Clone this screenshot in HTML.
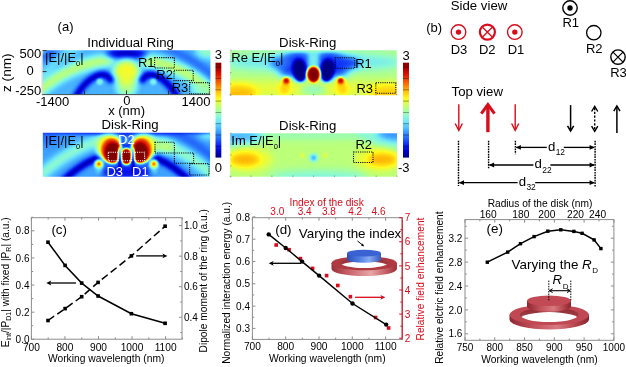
<!DOCTYPE html>
<html><head><meta charset="utf-8"><style>
html,body{margin:0;padding:0;background:#fff;overflow:hidden;}
svg{display:block;}
text{font-family:"Liberation Sans",Arial,sans-serif;}
</style></head><body>
<svg width="626" height="367" viewBox="0 0 626 367">
<defs>
<filter id="jet" color-interpolation-filters="sRGB" filterUnits="userSpaceOnUse" x="0" y="0" width="626" height="367">
<feComponentTransfer>
<feFuncR type="table" tableValues="0.000 0.000 0.039 0.118 0.196 0.314 0.431 0.549 0.667 0.824 1.000 1.000 0.980 0.941 0.863 0.667 0.502"/>
<feFuncG type="table" tableValues="0.000 0.000 0.118 0.353 0.549 0.745 0.902 0.980 1.000 1.000 0.980 0.784 0.549 0.314 0.078 0.000 0.000"/>
<feFuncB type="table" tableValues="0.510 0.784 0.961 0.980 1.000 1.000 0.980 0.824 0.588 0.353 0.118 0.039 0.000 0.000 0.000 0.000 0.000"/>
</feComponentTransfer></filter>
<linearGradient id="cbar" x1="0" y1="0" x2="0" y2="1"><stop offset="0.0" stop-color="#800000"/><stop offset="0.0625" stop-color="#aa0000"/><stop offset="0.125" stop-color="#dc1400"/><stop offset="0.1875" stop-color="#f05000"/><stop offset="0.25" stop-color="#fa8c00"/><stop offset="0.3125" stop-color="#ffc80a"/><stop offset="0.375" stop-color="#fffa1e"/><stop offset="0.4375" stop-color="#d2ff5a"/><stop offset="0.5" stop-color="#aaff96"/><stop offset="0.5625" stop-color="#8cfad2"/><stop offset="0.625" stop-color="#6ee6fa"/><stop offset="0.6875" stop-color="#50beff"/><stop offset="0.75" stop-color="#328cff"/><stop offset="0.8125" stop-color="#1e5afa"/><stop offset="0.875" stop-color="#0a1ef5"/><stop offset="0.9375" stop-color="#0000c8"/><stop offset="1.0" stop-color="#000082"/></linearGradient>
<filter id="b4" color-interpolation-filters="sRGB" filterUnits="userSpaceOnUse" x="-50" y="-50" width="726" height="467"><feGaussianBlur stdDeviation="4"/></filter>
<filter id="b2" color-interpolation-filters="sRGB" filterUnits="userSpaceOnUse" x="-50" y="-50" width="726" height="467"><feGaussianBlur stdDeviation="2"/></filter>
<filter id="b3" color-interpolation-filters="sRGB" filterUnits="userSpaceOnUse" x="-50" y="-50" width="726" height="467"><feGaussianBlur stdDeviation="3"/></filter>
<filter id="b3_5" color-interpolation-filters="sRGB" filterUnits="userSpaceOnUse" x="-50" y="-50" width="726" height="467"><feGaussianBlur stdDeviation="3.5"/></filter>
<filter id="b2_2" color-interpolation-filters="sRGB" filterUnits="userSpaceOnUse" x="-50" y="-50" width="726" height="467"><feGaussianBlur stdDeviation="2.2"/></filter>
<filter id="b2_5" color-interpolation-filters="sRGB" filterUnits="userSpaceOnUse" x="-50" y="-50" width="726" height="467"><feGaussianBlur stdDeviation="2.5"/></filter>
<filter id="b1_2" color-interpolation-filters="sRGB" filterUnits="userSpaceOnUse" x="-50" y="-50" width="726" height="467"><feGaussianBlur stdDeviation="1.2"/></filter>
<clipPath id="clip1"><rect x="42.6" y="50.2" width="167.8" height="44.2"/></clipPath>
<filter id="b5" color-interpolation-filters="sRGB" filterUnits="userSpaceOnUse" x="-50" y="-50" width="726" height="467"><feGaussianBlur stdDeviation="5"/></filter>
<filter id="b1_5" color-interpolation-filters="sRGB" filterUnits="userSpaceOnUse" x="-50" y="-50" width="726" height="467"><feGaussianBlur stdDeviation="1.5"/></filter>
<filter id="b1_4" color-interpolation-filters="sRGB" filterUnits="userSpaceOnUse" x="-50" y="-50" width="726" height="467"><feGaussianBlur stdDeviation="1.4"/></filter>
<filter id="b1_0" color-interpolation-filters="sRGB" filterUnits="userSpaceOnUse" x="-50" y="-50" width="726" height="467"><feGaussianBlur stdDeviation="1.0"/></filter>
<filter id="b0_8" color-interpolation-filters="sRGB" filterUnits="userSpaceOnUse" x="-50" y="-50" width="726" height="467"><feGaussianBlur stdDeviation="0.8"/></filter>
<clipPath id="clip2"><rect x="230.2" y="50.2" width="166.60000000000002" height="45.0"/></clipPath>
<filter id="b1_8" color-interpolation-filters="sRGB" filterUnits="userSpaceOnUse" x="-50" y="-50" width="726" height="467"><feGaussianBlur stdDeviation="1.8"/></filter>
<filter id="b1_3" color-interpolation-filters="sRGB" filterUnits="userSpaceOnUse" x="-50" y="-50" width="726" height="467"><feGaussianBlur stdDeviation="1.3"/></filter>
<filter id="b0_9" color-interpolation-filters="sRGB" filterUnits="userSpaceOnUse" x="-50" y="-50" width="726" height="467"><feGaussianBlur stdDeviation="0.9"/></filter>
<clipPath id="clip3"><rect x="42.8" y="132.8" width="167.2" height="44.0"/></clipPath>
<clipPath id="clip4"><rect x="230.2" y="133.2" width="166.8" height="43.60000000000002"/></clipPath>
<linearGradient id="rside" x1="0" y1="0" x2="1" y2="0"><stop offset="0" stop-color="#8e2630"/><stop offset="0.3" stop-color="#c2505a"/><stop offset="0.6" stop-color="#d87a80"/><stop offset="0.85" stop-color="#b04048"/><stop offset="1" stop-color="#8a2430"/></linearGradient>
<linearGradient id="rside2" x1="0" y1="0" x2="1" y2="0"><stop offset="0" stop-color="#9a2e36"/><stop offset="0.3" stop-color="#cc6a70"/><stop offset="0.6" stop-color="#e8a6a8"/><stop offset="0.85" stop-color="#c05a60"/><stop offset="1" stop-color="#9a2e36"/></linearGradient>
<linearGradient id="bside" x1="0" y1="0" x2="1" y2="0"><stop offset="0" stop-color="#2b4fb8"/><stop offset="0.35" stop-color="#4c7ae0"/><stop offset="0.65" stop-color="#86aaf2"/><stop offset="1" stop-color="#3558c0"/></linearGradient>
<linearGradient id="rinner" x1="0" y1="0" x2="0" y2="1"><stop offset="0" stop-color="#8a2a32"/><stop offset="1" stop-color="#b04850"/></linearGradient>
<clipPath id="hce"><ellipse cx="549.25" cy="314.8" rx="29.3" ry="7.3"/></clipPath>
<clipPath id="hcd"><ellipse cx="364.2" cy="263.2" rx="23.6" ry="4.8"/></clipPath>
</defs>
<rect x="0" y="0" width="626" height="367" fill="#fff"/>
<g clip-path="url(#clip1)"><g filter="url(#jet)">
<rect x="22.6" y="30.200000000000003" width="207.8" height="84.2" fill="rgb(76,76,76)"/>
<ellipse cx="46.00" cy="53.00" rx="12" ry="8" fill="rgb(51,51,51)" opacity="1" filter="url(#b4)"/>
<ellipse cx="42.00" cy="50.00" rx="4" ry="3" fill="rgb(107,107,107)" opacity="1" filter="url(#b2)"/>
<path d="M 38 80 Q 55 60 80 46" fill="none" stroke="rgb(102,102,102)" stroke-width="6" stroke-linecap="round" opacity="1" filter="url(#b3)"/>
<path d="M 36 94 Q 68 64 110 60" fill="none" stroke="rgb(143,143,143)" stroke-width="10" stroke-linecap="round" opacity="1" filter="url(#b3_5)"/>
<path d="M 146 61 Q 185 64 216 97" fill="none" stroke="rgb(143,143,143)" stroke-width="11" stroke-linecap="round" opacity="1" filter="url(#b3_5)"/>
<ellipse cx="201.00" cy="90.00" rx="10" ry="5" fill="rgb(117,117,117)" opacity="1" filter="url(#b3)"/>
<path d="M 152 42 Q 188 54 216 78" fill="none" stroke="rgb(46,46,46)" stroke-width="6" stroke-linecap="round" opacity="1" filter="url(#b3)"/>
<ellipse cx="210.00" cy="51.00" rx="14" ry="7" fill="rgb(117,117,117)" opacity="1" filter="url(#b3)"/>
<ellipse cx="126.50" cy="53.50" rx="21" ry="5" fill="rgb(8,8,8)" opacity="1" filter="url(#b3)"/>
<ellipse cx="126.50" cy="76.00" rx="15" ry="16" fill="rgb(102,102,102)" opacity="1" filter="url(#b3)"/>
<ellipse cx="126.50" cy="88.00" rx="9" ry="9" fill="rgb(128,128,128)" opacity="1" filter="url(#b3)"/>
<ellipse cx="126.50" cy="71.00" rx="12" ry="10" fill="rgb(158,158,158)" opacity="1" filter="url(#b3)"/>
<ellipse cx="126.50" cy="79.00" rx="7" ry="7" fill="rgb(153,153,153)" opacity="1" filter="url(#b3)"/>
<path d="M 74 101 Q 83 81 99 75 Q 107 73 110.5 80" fill="none" stroke="rgb(8,8,8)" stroke-width="6.5" stroke-linecap="round" opacity="1" filter="url(#b2_2)"/>
<path d="M 179.0 101 Q 170.0 81 154.0 75 Q 146.0 73 142.5 80" fill="none" stroke="rgb(8,8,8)" stroke-width="6.5" stroke-linecap="round" opacity="1" filter="url(#b2_2)"/>
<ellipse cx="100.00" cy="89.00" rx="6" ry="6" fill="rgb(76,76,76)" opacity="1" filter="url(#b2_5)"/>
<ellipse cx="153.00" cy="89.00" rx="6" ry="6" fill="rgb(76,76,76)" opacity="1" filter="url(#b2_5)"/>
<ellipse cx="99.70" cy="81.80" rx="3.0" ry="3.0" fill="rgb(107,107,107)" opacity="1" filter="url(#b1_2)"/>
<ellipse cx="153.30" cy="81.80" rx="3.0" ry="3.0" fill="rgb(107,107,107)" opacity="1" filter="url(#b1_2)"/>
</g></g>
<g clip-path="url(#clip2)"><g filter="url(#jet)">
<rect x="210.2" y="30.200000000000003" width="206.60000000000002" height="85.0" fill="rgb(133,133,133)"/>
<ellipse cx="313.50" cy="62.00" rx="92" ry="9" fill="rgb(97,97,97)" opacity="1" filter="url(#b5)"/>
<ellipse cx="313.50" cy="89.00" rx="100" ry="8" fill="rgb(153,153,153)" opacity="1" filter="url(#b5)"/>
<ellipse cx="238.00" cy="94.00" rx="20" ry="10" fill="rgb(178,178,178)" opacity="1" filter="url(#b4)"/>
<ellipse cx="389.00" cy="94.00" rx="20" ry="10" fill="rgb(173,173,173)" opacity="1" filter="url(#b4)"/>
<ellipse cx="294.50" cy="64.00" rx="17" ry="12" fill="rgb(36,36,36)" opacity="1" filter="url(#b4)" transform="rotate(-30 294.5 64)"/>
<ellipse cx="332.50" cy="64.00" rx="17" ry="12" fill="rgb(36,36,36)" opacity="1" filter="url(#b4)" transform="rotate(30 332.5 64)"/>
<ellipse cx="346.50" cy="63.00" rx="13" ry="5.5" fill="rgb(38,38,38)" opacity="1" filter="url(#b3)"/>
<ellipse cx="280.50" cy="63.00" rx="11" ry="5.5" fill="rgb(56,56,56)" opacity="1" filter="url(#b3)"/>
<ellipse cx="313.50" cy="60.00" rx="4.5" ry="10" fill="rgb(102,102,102)" opacity="1" filter="url(#b2_2)"/>
<ellipse cx="313.50" cy="49.50" rx="100" ry="2.2" fill="rgb(120,120,120)" opacity="1" filter="url(#b1_5)"/>
<ellipse cx="313.50" cy="90.00" rx="13" ry="6" fill="rgb(117,117,117)" opacity="1" filter="url(#b3)"/>
<ellipse cx="299.70" cy="70.50" rx="7.4" ry="11.6" fill="rgb(0,0,0)" opacity="1" filter="url(#b1_4)" transform="rotate(-8 299.7 70.5)"/>
<ellipse cx="327.30" cy="70.50" rx="7.4" ry="11.6" fill="rgb(0,0,0)" opacity="1" filter="url(#b1_4)" transform="rotate(8 327.3 70.5)"/>
<ellipse cx="285.00" cy="87.50" rx="5.5" ry="8" fill="rgb(173,173,173)" opacity="1" filter="url(#b2_5)" transform="rotate(20 285.0 87.5)"/>
<ellipse cx="342.00" cy="87.50" rx="5.5" ry="8" fill="rgb(173,173,173)" opacity="1" filter="url(#b2_5)" transform="rotate(-20 342.0 87.5)"/>
<ellipse cx="286.30" cy="81.00" rx="3.6" ry="3.6" fill="rgb(204,204,204)" opacity="1" filter="url(#b1_5)"/>
<ellipse cx="340.70" cy="81.00" rx="3.6" ry="3.6" fill="rgb(204,204,204)" opacity="1" filter="url(#b1_5)"/>
<ellipse cx="286.30" cy="80.70" rx="2.4" ry="2.4" fill="rgb(235,235,235)" opacity="1" filter="url(#b1_0)"/>
<ellipse cx="340.70" cy="80.70" rx="2.4" ry="2.4" fill="rgb(235,235,235)" opacity="1" filter="url(#b1_0)"/>
<ellipse cx="313.50" cy="74.60" rx="7.4" ry="9.2" fill="rgb(128,128,128)" opacity="1" filter="url(#b1_2)"/>
<ellipse cx="313.50" cy="74.60" rx="6.4" ry="8.2" fill="rgb(191,191,191)" opacity="1" filter="url(#b1_0)"/>
<ellipse cx="313.50" cy="74.60" rx="5.6" ry="7.3" fill="rgb(255,255,255)" opacity="1" filter="url(#b0_8)"/>
</g></g>
<g clip-path="url(#clip3)"><g filter="url(#jet)">
<rect x="22.799999999999997" y="112.80000000000001" width="207.2" height="84.0" fill="rgb(71,71,71)"/>
<ellipse cx="44.00" cy="137.00" rx="16" ry="8" fill="rgb(56,56,56)" opacity="1" filter="url(#b4)"/>
<path d="M 34 182 Q 65 150 104 139" fill="none" stroke="rgb(122,122,122)" stroke-width="9" stroke-linecap="round" opacity="1" filter="url(#b3_5)"/>
<path d="M 148.8 141 Q 182 146 216 178" fill="none" stroke="rgb(120,120,120)" stroke-width="10" stroke-linecap="round" opacity="1" filter="url(#b3_5)"/>
<ellipse cx="165.00" cy="147.00" rx="10" ry="5" fill="rgb(138,138,138)" opacity="1" filter="url(#b3)"/>
<path d="M 158 126 Q 190 136 218 162" fill="none" stroke="rgb(43,43,43)" stroke-width="6" stroke-linecap="round" opacity="1" filter="url(#b3)"/>
<ellipse cx="211.00" cy="133.00" rx="12" ry="6" fill="rgb(107,107,107)" opacity="1" filter="url(#b3)"/>
<ellipse cx="126.40" cy="132.50" rx="95" ry="2.2" fill="rgb(31,31,31)" opacity="1" filter="url(#b1_5)"/>
<path d="M 62 182 Q 78 166 96 158.5 Q 104 156 108 161" fill="none" stroke="rgb(5,5,5)" stroke-width="6.5" stroke-linecap="round" opacity="1" filter="url(#b2_2)"/>
<path d="M 190.8 182 Q 174.8 166 156.8 158.5 Q 148.8 156 144.8 161" fill="none" stroke="rgb(5,5,5)" stroke-width="6.5" stroke-linecap="round" opacity="1" filter="url(#b2_2)"/>
<ellipse cx="126.40" cy="172.00" rx="26" ry="7" fill="rgb(26,26,26)" opacity="1" filter="url(#b3)"/>
<ellipse cx="109.90" cy="148.00" rx="13" ry="13.5" fill="rgb(163,163,163)" opacity="1" filter="url(#b2_5)" transform="rotate(-20 109.9 148)"/>
<ellipse cx="142.90" cy="148.00" rx="13" ry="13.5" fill="rgb(163,163,163)" opacity="1" filter="url(#b2_5)" transform="rotate(20 142.9 148)"/>
<ellipse cx="111.60" cy="150.50" rx="10.2" ry="12.2" fill="rgb(219,219,219)" opacity="1" filter="url(#b1_8)"/>
<ellipse cx="141.20" cy="150.50" rx="10.2" ry="12.2" fill="rgb(219,219,219)" opacity="1" filter="url(#b1_8)"/>
<ellipse cx="112.80" cy="152.50" rx="7.8" ry="10" fill="rgb(255,255,255)" opacity="1" filter="url(#b1_2)"/>
<ellipse cx="140.00" cy="152.50" rx="7.8" ry="10" fill="rgb(255,255,255)" opacity="1" filter="url(#b1_2)"/>
<ellipse cx="126.40" cy="143.00" rx="5.2" ry="10" fill="rgb(36,36,36)" opacity="1" filter="url(#b1_5)"/>
<ellipse cx="126.40" cy="140.00" rx="2.5" ry="4" fill="rgb(76,76,76)" opacity="1" filter="url(#b1_3)"/>
<ellipse cx="126.40" cy="156.50" rx="5.8" ry="8.2" fill="rgb(191,191,191)" opacity="1" filter="url(#b1_0)"/>
<ellipse cx="126.40" cy="156.50" rx="5.0" ry="7.2" fill="rgb(255,255,255)" opacity="1" filter="url(#b0_9)"/>
<ellipse cx="119.80" cy="160.00" rx="1.5" ry="13" fill="rgb(8,8,8)" opacity="1" filter="url(#b1_0)"/>
<ellipse cx="133.00" cy="160.00" rx="1.5" ry="13" fill="rgb(8,8,8)" opacity="1" filter="url(#b1_0)"/>
<ellipse cx="98.90" cy="168.00" rx="2.5" ry="6" fill="rgb(102,102,102)" opacity="1" filter="url(#b2)"/>
<ellipse cx="153.90" cy="168.00" rx="2.5" ry="6" fill="rgb(102,102,102)" opacity="1" filter="url(#b2)"/>
<ellipse cx="98.90" cy="164.00" rx="4" ry="4" fill="rgb(158,158,158)" opacity="1" filter="url(#b1_5)"/>
<ellipse cx="153.90" cy="164.00" rx="4" ry="4" fill="rgb(158,158,158)" opacity="1" filter="url(#b1_5)"/>
<ellipse cx="98.90" cy="164.00" rx="1.8" ry="1.8" fill="rgb(219,219,219)" opacity="1" filter="url(#b0_8)"/>
<ellipse cx="153.90" cy="164.00" rx="1.8" ry="1.8" fill="rgb(219,219,219)" opacity="1" filter="url(#b0_8)"/>
</g></g>
<g clip-path="url(#clip4)"><g filter="url(#jet)">
<rect x="210.2" y="113.19999999999999" width="206.8" height="83.60000000000002" fill="rgb(135,135,135)"/>
<ellipse cx="313.60" cy="135.00" rx="90" ry="4" fill="rgb(117,117,117)" opacity="1" filter="url(#b3)"/>
<ellipse cx="234.00" cy="136.00" rx="28" ry="9" fill="rgb(79,79,79)" opacity="1" filter="url(#b4)"/>
<ellipse cx="397.00" cy="134.00" rx="22" ry="9" fill="rgb(66,66,66)" opacity="1" filter="url(#b4)"/>
<path d="M 360 132 Q 380 145 400 150" fill="none" stroke="rgb(102,102,102)" stroke-width="5" stroke-linecap="round" opacity="1" filter="url(#b3)"/>
<ellipse cx="318.60" cy="178.00" rx="50" ry="7" fill="rgb(105,105,105)" opacity="1" filter="url(#b4)"/>
<ellipse cx="248.00" cy="159.50" rx="25" ry="12" fill="rgb(153,153,153)" opacity="1" filter="url(#b3_5)"/>
<ellipse cx="379.20" cy="159.50" rx="25" ry="12" fill="rgb(153,153,153)" opacity="1" filter="url(#b3_5)"/>
<ellipse cx="245.00" cy="159.50" rx="15" ry="6.5" fill="rgb(181,181,181)" opacity="1" filter="url(#b3)"/>
<ellipse cx="382.20" cy="159.50" rx="15" ry="6.5" fill="rgb(181,181,181)" opacity="1" filter="url(#b3)"/>
<ellipse cx="313.60" cy="157.80" rx="4.5" ry="4.5" fill="rgb(107,107,107)" opacity="1" filter="url(#b1_5)"/>
<ellipse cx="313.60" cy="157.80" rx="2.5" ry="2.5" fill="rgb(76,76,76)" opacity="1" filter="url(#b1_0)"/>
<ellipse cx="302.10" cy="155.30" rx="2.2" ry="2.2" fill="rgb(153,153,153)" opacity="1" filter="url(#b1_0)"/>
<ellipse cx="325.10" cy="155.30" rx="2.2" ry="2.2" fill="rgb(153,153,153)" opacity="1" filter="url(#b1_0)"/>
</g></g>
<rect x="215.5" y="62.7" width="5.80" height="94.9" fill="url(#cbar)"/>
<line x1="215.50" y1="146.30" x2="221.30" y2="146.30" stroke="#000" stroke-width="0.8" opacity="0.45"/>
<line x1="215.50" y1="135.00" x2="221.30" y2="135.00" stroke="#000" stroke-width="0.8" opacity="0.45"/>
<line x1="215.50" y1="123.70" x2="221.30" y2="123.70" stroke="#000" stroke-width="0.8" opacity="0.45"/>
<line x1="215.50" y1="112.40" x2="221.30" y2="112.40" stroke="#000" stroke-width="0.8" opacity="0.45"/>
<line x1="215.50" y1="101.10" x2="221.30" y2="101.10" stroke="#000" stroke-width="0.8" opacity="0.45"/>
<line x1="215.50" y1="89.80" x2="221.30" y2="89.80" stroke="#000" stroke-width="0.8" opacity="0.45"/>
<line x1="215.50" y1="78.50" x2="221.30" y2="78.50" stroke="#000" stroke-width="0.8" opacity="0.45"/>
<line x1="215.50" y1="67.20" x2="221.30" y2="67.20" stroke="#000" stroke-width="0.8" opacity="0.45"/>
<rect x="403.0" y="62.7" width="6.00" height="94.9" fill="url(#cbar)"/>
<line x1="403.00" y1="146.30" x2="409.00" y2="146.30" stroke="#000" stroke-width="0.8" opacity="0.45"/>
<line x1="403.00" y1="135.00" x2="409.00" y2="135.00" stroke="#000" stroke-width="0.8" opacity="0.45"/>
<line x1="403.00" y1="123.70" x2="409.00" y2="123.70" stroke="#000" stroke-width="0.8" opacity="0.45"/>
<line x1="403.00" y1="112.40" x2="409.00" y2="112.40" stroke="#000" stroke-width="0.8" opacity="0.45"/>
<line x1="403.00" y1="101.10" x2="409.00" y2="101.10" stroke="#000" stroke-width="0.8" opacity="0.45"/>
<line x1="403.00" y1="89.80" x2="409.00" y2="89.80" stroke="#000" stroke-width="0.8" opacity="0.45"/>
<line x1="403.00" y1="78.50" x2="409.00" y2="78.50" stroke="#000" stroke-width="0.8" opacity="0.45"/>
<line x1="403.00" y1="67.20" x2="409.00" y2="67.20" stroke="#000" stroke-width="0.8" opacity="0.45"/>
<text x="57.60" y="31.30" font-size="13" text-anchor="start" fill="#000" >(a)</text>
<text x="130.60" y="46.60" font-size="13.2" text-anchor="middle" fill="#000" >Individual Ring</text>
<text x="307.70" y="46.70" font-size="13.2" text-anchor="middle" fill="#000" >Disk-Ring</text>
<text x="130.00" y="129.40" font-size="13.2" text-anchor="middle" fill="#000" >Disk-Ring</text>
<text x="307.70" y="129.90" font-size="13.2" text-anchor="middle" fill="#000" >Disk-Ring</text>
<text x="218.40" y="58.60" font-size="13" text-anchor="middle" fill="#000" >3</text>
<text x="218.40" y="171.80" font-size="13" text-anchor="middle" fill="#000" >0</text>
<text x="406.00" y="59.80" font-size="13" text-anchor="middle" fill="#000" >3</text>
<text x="409.50" y="171.80" font-size="13" text-anchor="end" fill="#000" >-3</text>
<line x1="42.10" y1="50.20" x2="42.10" y2="94.80" stroke="#d8cccc" stroke-width="1" />
<line x1="42.10" y1="94.60" x2="210.40" y2="94.60" stroke="#3a5050" stroke-width="1" />
<line x1="42.60" y1="50.60" x2="46.60" y2="50.60" stroke="#333" stroke-width="1" />
<line x1="42.60" y1="71.60" x2="46.60" y2="71.60" stroke="#333" stroke-width="1" />
<line x1="84.50" y1="94.40" x2="84.50" y2="90.40" stroke="#333" stroke-width="1" />
<line x1="126.50" y1="94.40" x2="126.50" y2="90.40" stroke="#333" stroke-width="1" />
<line x1="168.50" y1="94.40" x2="168.50" y2="90.40" stroke="#333" stroke-width="1" />
<text x="41.20" y="57.80" font-size="13" text-anchor="end" fill="#000" >500</text>
<text x="30.10" y="75.20" font-size="13" text-anchor="middle" fill="#000" >0</text>
<text x="41.20" y="95.20" font-size="13" text-anchor="end" fill="#000" >-250</text>
<text x="52.50" y="106.00" font-size="13" text-anchor="middle" fill="#000" >-1400</text>
<text x="126.80" y="105.00" font-size="13" text-anchor="middle" fill="#000" >0</text>
<text x="196.00" y="106.00" font-size="13" text-anchor="middle" fill="#000" >1400</text>
<text x="126.60" y="115.20" font-size="13" text-anchor="middle" fill="#000" >x (nm)</text>
<text transform="translate(10.7 72.7) rotate(-90)" font-size="13.6" text-anchor="middle">z (nm)</text>
<text x="45" y="62.2" font-size="13">|E|/|E<tspan font-size="7.5" dy="4">0</tspan><tspan dy="-4">|</tspan></text>
<text x="231.3" y="62.2" font-size="13">Re E/|E<tspan font-size="7.5" dy="4">0</tspan><tspan dy="-4">|</tspan></text>
<text x="45" y="145.2" font-size="13">|E|/|E<tspan font-size="7.5" dy="4">0</tspan><tspan dy="-4">|</tspan></text>
<text x="231.3" y="144.5" font-size="13">Im E/|E<tspan font-size="7.5" dy="4">0</tspan><tspan dy="-4">|</tspan></text>
<rect x="154.6" y="57.6" width="19.80" height="10.40" fill="none" stroke="#000" stroke-width="1.1" stroke-dasharray="1.1 1.1"/>
<rect x="174.0" y="70.2" width="19.20" height="10.40" fill="none" stroke="#000" stroke-width="1.1" stroke-dasharray="1.1 1.1"/>
<rect x="189.6" y="82.6" width="19.80" height="11.20" fill="none" stroke="#000" stroke-width="1.1" stroke-dasharray="1.1 1.1"/>
<text x="146.20" y="67.30" font-size="13" text-anchor="middle" fill="#000" >R1</text>
<text x="164.60" y="79.40" font-size="13" text-anchor="middle" fill="#000" >R2</text>
<text x="180.00" y="91.90" font-size="13" text-anchor="middle" fill="#000" >R3</text>
<rect x="155.0" y="142.3" width="19.40" height="10.70" fill="none" stroke="#000" stroke-width="1.1" stroke-dasharray="1.1 1.1"/>
<rect x="174.4" y="153.0" width="19.20" height="10.30" fill="none" stroke="#000" stroke-width="1.1" stroke-dasharray="1.1 1.1"/>
<rect x="189.6" y="163.6" width="19.40" height="11.40" fill="none" stroke="#000" stroke-width="1.1" stroke-dasharray="1.1 1.1"/>
<rect x="108.3" y="152.2" width="9.80" height="8.60" fill="none" stroke="#fff" stroke-width="1.1" stroke-dasharray="1.1 1.1"/>
<rect x="121.8" y="152.2" width="9.80" height="8.60" fill="none" stroke="#fff" stroke-width="1.1" stroke-dasharray="1.1 1.1"/>
<rect x="134.8" y="152.2" width="9.80" height="8.60" fill="none" stroke="#fff" stroke-width="1.1" stroke-dasharray="1.1 1.1"/>
<text x="126.40" y="144.30" font-size="13" text-anchor="middle" fill="#fff" >D2</text>
<text x="114.70" y="176.20" font-size="13" text-anchor="middle" fill="#fff" >D3</text>
<text x="140.40" y="176.20" font-size="13" text-anchor="middle" fill="#fff" >D1</text>
<rect x="335.2" y="57.7" width="19.50" height="10.50" fill="none" stroke="#000" stroke-width="1.1" stroke-dasharray="1.1 1.1"/>
<rect x="375.8" y="82.8" width="20.00" height="10.50" fill="none" stroke="#000" stroke-width="1.1" stroke-dasharray="1.1 1.1"/>
<text x="363.50" y="67.80" font-size="13" text-anchor="middle" fill="#000" >R1</text>
<text x="364.80" y="93.30" font-size="13" text-anchor="middle" fill="#000" >R3</text>
<rect x="353.5" y="152.0" width="19.50" height="10.50" fill="none" stroke="#000" stroke-width="1.1" stroke-dasharray="1.1 1.1"/>
<text x="363.70" y="149.30" font-size="13" text-anchor="middle" fill="#000" >R2</text>
<line x1="230.20" y1="95.20" x2="230.20" y2="94.00" stroke="#555" stroke-width="0.6" />
<line x1="251.02" y1="95.20" x2="251.02" y2="94.00" stroke="#555" stroke-width="0.6" />
<line x1="271.85" y1="95.20" x2="271.85" y2="94.00" stroke="#555" stroke-width="0.6" />
<line x1="292.68" y1="95.20" x2="292.68" y2="94.00" stroke="#555" stroke-width="0.6" />
<line x1="313.50" y1="95.20" x2="313.50" y2="94.00" stroke="#555" stroke-width="0.6" />
<line x1="334.32" y1="95.20" x2="334.32" y2="94.00" stroke="#555" stroke-width="0.6" />
<line x1="355.15" y1="95.20" x2="355.15" y2="94.00" stroke="#555" stroke-width="0.6" />
<line x1="375.98" y1="95.20" x2="375.98" y2="94.00" stroke="#555" stroke-width="0.6" />
<line x1="396.80" y1="95.20" x2="396.80" y2="94.00" stroke="#555" stroke-width="0.6" />
<line x1="230.20" y1="50.20" x2="231.40" y2="50.20" stroke="#555" stroke-width="0.6" />
<line x1="230.20" y1="61.45" x2="231.40" y2="61.45" stroke="#555" stroke-width="0.6" />
<line x1="230.20" y1="72.70" x2="231.40" y2="72.70" stroke="#555" stroke-width="0.6" />
<line x1="230.20" y1="83.95" x2="231.40" y2="83.95" stroke="#555" stroke-width="0.6" />
<line x1="230.20" y1="95.20" x2="231.40" y2="95.20" stroke="#555" stroke-width="0.6" />
<line x1="230.20" y1="176.80" x2="230.20" y2="175.60" stroke="#555" stroke-width="0.6" />
<line x1="251.05" y1="176.80" x2="251.05" y2="175.60" stroke="#555" stroke-width="0.6" />
<line x1="271.90" y1="176.80" x2="271.90" y2="175.60" stroke="#555" stroke-width="0.6" />
<line x1="292.75" y1="176.80" x2="292.75" y2="175.60" stroke="#555" stroke-width="0.6" />
<line x1="313.60" y1="176.80" x2="313.60" y2="175.60" stroke="#555" stroke-width="0.6" />
<line x1="334.45" y1="176.80" x2="334.45" y2="175.60" stroke="#555" stroke-width="0.6" />
<line x1="355.30" y1="176.80" x2="355.30" y2="175.60" stroke="#555" stroke-width="0.6" />
<line x1="376.15" y1="176.80" x2="376.15" y2="175.60" stroke="#555" stroke-width="0.6" />
<line x1="397.00" y1="176.80" x2="397.00" y2="175.60" stroke="#555" stroke-width="0.6" />
<line x1="230.20" y1="133.20" x2="231.40" y2="133.20" stroke="#555" stroke-width="0.6" />
<line x1="230.20" y1="144.10" x2="231.40" y2="144.10" stroke="#555" stroke-width="0.6" />
<line x1="230.20" y1="155.00" x2="231.40" y2="155.00" stroke="#555" stroke-width="0.6" />
<line x1="230.20" y1="165.90" x2="231.40" y2="165.90" stroke="#555" stroke-width="0.6" />
<line x1="230.20" y1="176.80" x2="231.40" y2="176.80" stroke="#555" stroke-width="0.6" />
<text x="450.80" y="10.10" font-size="13.2" text-anchor="start" fill="#000" >Side view</text>
<text x="426.20" y="31.60" font-size="13" text-anchor="start" fill="#000" >(b)</text>
<circle cx="458.5" cy="32.1" r="7.3" fill="none" stroke="#d80c1a" stroke-width="1.4"/>
<circle cx="458.5" cy="32.1" r="2.7" fill="#d80c1a"/>
<circle cx="514.8" cy="32.1" r="7.3" fill="none" stroke="#d80c1a" stroke-width="1.4"/>
<circle cx="514.8" cy="32.1" r="2.7" fill="#d80c1a"/>
<circle cx="487.4" cy="32.1" r="7.5" fill="none" stroke="#d80c1a" stroke-width="2.2"/>
<path d="M 482.79999999999995 27.5 L 492.0 36.7 M 482.79999999999995 36.7 L 492.0 27.5" stroke="#d80c1a" stroke-width="1.3"/>
<text x="459.00" y="53.90" font-size="13" text-anchor="middle" fill="#000" >D3</text>
<text x="487.30" y="53.90" font-size="13" text-anchor="middle" fill="#000" >D2</text>
<text x="516.00" y="53.90" font-size="13" text-anchor="middle" fill="#000" >D1</text>
<circle cx="570.0" cy="8.0" r="7.2" fill="none" stroke="#000" stroke-width="1.4"/>
<circle cx="570.0" cy="8.0" r="2.7" fill="#000"/>
<circle cx="593.8" cy="32.7" r="7.2" fill="none" stroke="#000" stroke-width="1.3"/>
<circle cx="618.0" cy="57.1" r="7.2" fill="none" stroke="#000" stroke-width="1.4"/>
<path d="M 613.0 52.1 L 623.0 62.1 M 613.0 62.1 L 623.0 52.1" stroke="#000" stroke-width="1.2"/>
<text x="570.80" y="26.80" font-size="13" text-anchor="middle" fill="#000" >R1</text>
<text x="594.30" y="53.40" font-size="13" text-anchor="middle" fill="#000" >R2</text>
<text x="618.50" y="77.40" font-size="13" text-anchor="middle" fill="#000" >R3</text>
<text x="451.60" y="95.80" font-size="13.2" text-anchor="start" fill="#000" >Top view</text>
<line x1="458.8" y1="104.2" x2="458.8" y2="130.08" stroke="#d80c1a" stroke-width="1.4"/>
<path d="M 455.2 123.5 L 458.8 130.5 L 462.40000000000003 123.5" fill="none" stroke="#d80c1a" stroke-width="1.4" stroke-linejoin="miter"/>
<line x1="515.2" y1="104.2" x2="515.2" y2="130.08" stroke="#d80c1a" stroke-width="1.4"/>
<path d="M 511.6 123.5 L 515.2 130.5 L 518.8000000000001 123.5" fill="none" stroke="#d80c1a" stroke-width="1.4" stroke-linejoin="miter"/>
<line x1="487.9" y1="132.2" x2="487.9" y2="106" stroke="#d80c1a" stroke-width="3.4"/>
<path d="M 481.3 113.6 L 487.9 104.6 L 494.5 113.6" fill="none" stroke="#d80c1a" stroke-width="3.0" stroke-linejoin="miter"/>
<line x1="570.6" y1="105.1" x2="570.6" y2="130.55" stroke="#000" stroke-width="1.5"/>
<path d="M 567.5 125.8 L 570.6 131.0 L 573.7 125.8" fill="none" stroke="#000" stroke-width="1.5" stroke-linejoin="miter"/>
<line x1="616.9" y1="133.0" x2="616.9" y2="106.35000000000001" stroke="#000" stroke-width="1.5"/>
<path d="M 613.8 111.10000000000001 L 616.9 105.9 L 620.0 111.10000000000001" fill="none" stroke="#000" stroke-width="1.5" stroke-linejoin="miter"/>
<line x1="594.7" y1="108" x2="594.7" y2="130" stroke="#000" stroke-width="1.4" stroke-dasharray="2.2 1.6"/>
<path d="M 591.6 111.5 L 594.7 106.3 L 597.8 111.5 M 591.6 126.2 L 594.7 131.4 L 597.8 126.2" fill="none" stroke="#000" stroke-width="1.4"/>
<line x1="458.5" y1="140.7" x2="458.5" y2="186.0" stroke="#000" stroke-width="1.4" stroke-dasharray="1.7 0.9"/>
<line x1="488.6" y1="140.7" x2="488.6" y2="168.2" stroke="#000" stroke-width="1.4" stroke-dasharray="1.7 0.9"/>
<line x1="515.4" y1="140.7" x2="515.4" y2="154.2" stroke="#000" stroke-width="1.4" stroke-dasharray="1.7 0.9"/>
<line x1="595.1" y1="140.7" x2="595.1" y2="186.5" stroke="#000" stroke-width="1.4" stroke-dasharray="1.7 0.9"/>
<line x1="516.4" y1="147.4" x2="546.8" y2="147.4" stroke="#000" stroke-width="1.3"/>
<line x1="563.8" y1="147.4" x2="594.1" y2="147.4" stroke="#000" stroke-width="1.3"/>
<path d="M 520.9 145.0 L 515.6999999999999 147.4 L 520.9 149.8 Z" fill="#000"/>
<path d="M 589.6 145.0 L 594.8000000000001 147.4 L 589.6 149.8 Z" fill="#000"/>
<text x="548.0" y="150.6" font-size="13.2">d<tspan font-size="8.4" dy="4.4" dx="0.3">12</tspan></text>
<line x1="489.6" y1="165.0" x2="533.4" y2="165.0" stroke="#000" stroke-width="1.3"/>
<line x1="550.4" y1="165.0" x2="594.1" y2="165.0" stroke="#000" stroke-width="1.3"/>
<path d="M 494.1 162.6 L 488.90000000000003 165.0 L 494.1 167.4 Z" fill="#000"/>
<path d="M 589.6 162.6 L 594.8000000000001 165.0 L 589.6 167.4 Z" fill="#000"/>
<text x="534.6" y="168.2" font-size="13.2">d<tspan font-size="8.4" dy="4.4" dx="0.3">22</tspan></text>
<line x1="459.5" y1="182.7" x2="517.6" y2="182.7" stroke="#000" stroke-width="1.3"/>
<line x1="535.2" y1="182.7" x2="594.1" y2="182.7" stroke="#000" stroke-width="1.3"/>
<path d="M 464.0 180.29999999999998 L 458.8 182.7 L 464.0 185.1 Z" fill="#000"/>
<path d="M 589.6 180.29999999999998 L 594.8000000000001 182.7 L 589.6 185.1 Z" fill="#000"/>
<text x="518.8000000000001" y="185.89999999999998" font-size="13.2">d<tspan font-size="8.4" dy="4.4" dx="0.3">32</tspan></text>
<rect x="31.4" y="217.7" width="150.60" height="121.50" fill="none" stroke="#8c8c8c" stroke-width="1"/>
<line x1="31.40" y1="339.20" x2="31.40" y2="336.20" stroke="#8c8c8c" stroke-width="1" />
<line x1="31.40" y1="217.70" x2="31.40" y2="220.70" stroke="#8c8c8c" stroke-width="1" />
<line x1="48.17" y1="339.20" x2="48.17" y2="337.40" stroke="#8c8c8c" stroke-width="1" />
<line x1="48.17" y1="217.70" x2="48.17" y2="219.50" stroke="#8c8c8c" stroke-width="1" />
<line x1="64.95" y1="339.20" x2="64.95" y2="336.20" stroke="#8c8c8c" stroke-width="1" />
<line x1="64.95" y1="217.70" x2="64.95" y2="220.70" stroke="#8c8c8c" stroke-width="1" />
<line x1="81.72" y1="339.20" x2="81.72" y2="337.40" stroke="#8c8c8c" stroke-width="1" />
<line x1="81.72" y1="217.70" x2="81.72" y2="219.50" stroke="#8c8c8c" stroke-width="1" />
<line x1="98.50" y1="339.20" x2="98.50" y2="336.20" stroke="#8c8c8c" stroke-width="1" />
<line x1="98.50" y1="217.70" x2="98.50" y2="220.70" stroke="#8c8c8c" stroke-width="1" />
<line x1="115.28" y1="339.20" x2="115.28" y2="337.40" stroke="#8c8c8c" stroke-width="1" />
<line x1="115.28" y1="217.70" x2="115.28" y2="219.50" stroke="#8c8c8c" stroke-width="1" />
<line x1="132.05" y1="339.20" x2="132.05" y2="336.20" stroke="#8c8c8c" stroke-width="1" />
<line x1="132.05" y1="217.70" x2="132.05" y2="220.70" stroke="#8c8c8c" stroke-width="1" />
<line x1="148.83" y1="339.20" x2="148.83" y2="337.40" stroke="#8c8c8c" stroke-width="1" />
<line x1="148.83" y1="217.70" x2="148.83" y2="219.50" stroke="#8c8c8c" stroke-width="1" />
<line x1="165.60" y1="339.20" x2="165.60" y2="336.20" stroke="#8c8c8c" stroke-width="1" />
<line x1="165.60" y1="217.70" x2="165.60" y2="220.70" stroke="#8c8c8c" stroke-width="1" />
<line x1="182.38" y1="339.20" x2="182.38" y2="337.40" stroke="#8c8c8c" stroke-width="1" />
<line x1="182.38" y1="217.70" x2="182.38" y2="219.50" stroke="#8c8c8c" stroke-width="1" />
<line x1="31.40" y1="339.30" x2="34.40" y2="339.30" stroke="#8c8c8c" stroke-width="1" />
<line x1="31.40" y1="325.74" x2="33.20" y2="325.74" stroke="#8c8c8c" stroke-width="1" />
<line x1="31.40" y1="312.18" x2="34.40" y2="312.18" stroke="#8c8c8c" stroke-width="1" />
<line x1="31.40" y1="298.62" x2="33.20" y2="298.62" stroke="#8c8c8c" stroke-width="1" />
<line x1="31.40" y1="285.06" x2="34.40" y2="285.06" stroke="#8c8c8c" stroke-width="1" />
<line x1="31.40" y1="271.50" x2="33.20" y2="271.50" stroke="#8c8c8c" stroke-width="1" />
<line x1="31.40" y1="257.94" x2="34.40" y2="257.94" stroke="#8c8c8c" stroke-width="1" />
<line x1="31.40" y1="244.38" x2="33.20" y2="244.38" stroke="#8c8c8c" stroke-width="1" />
<line x1="31.40" y1="230.82" x2="34.40" y2="230.82" stroke="#8c8c8c" stroke-width="1" />
<line x1="31.40" y1="217.26" x2="33.20" y2="217.26" stroke="#8c8c8c" stroke-width="1" />
<line x1="182.00" y1="332.56" x2="180.20" y2="332.56" stroke="#8c8c8c" stroke-width="1" />
<line x1="182.00" y1="317.28" x2="179.00" y2="317.28" stroke="#8c8c8c" stroke-width="1" />
<line x1="182.00" y1="302.00" x2="180.20" y2="302.00" stroke="#8c8c8c" stroke-width="1" />
<line x1="182.00" y1="286.72" x2="179.00" y2="286.72" stroke="#8c8c8c" stroke-width="1" />
<line x1="182.00" y1="271.44" x2="180.20" y2="271.44" stroke="#8c8c8c" stroke-width="1" />
<line x1="182.00" y1="256.16" x2="179.00" y2="256.16" stroke="#8c8c8c" stroke-width="1" />
<line x1="182.00" y1="240.88" x2="180.20" y2="240.88" stroke="#8c8c8c" stroke-width="1" />
<line x1="182.00" y1="225.60" x2="179.00" y2="225.60" stroke="#8c8c8c" stroke-width="1" />
<text x="29.50" y="342.90" font-size="10" text-anchor="end" fill="#000" >0.0</text>
<text x="29.50" y="315.78" font-size="10" text-anchor="end" fill="#000" >0.2</text>
<text x="29.50" y="288.66" font-size="10" text-anchor="end" fill="#000" >0.4</text>
<text x="29.50" y="261.54" font-size="10" text-anchor="end" fill="#000" >0.6</text>
<text x="29.50" y="234.42" font-size="10" text-anchor="end" fill="#000" >0.8</text>
<text x="184.00" y="320.88" font-size="10" text-anchor="start" fill="#000" >0.4</text>
<text x="184.00" y="290.32" font-size="10" text-anchor="start" fill="#000" >0.6</text>
<text x="184.00" y="259.76" font-size="10" text-anchor="start" fill="#000" >0.8</text>
<text x="184.00" y="229.20" font-size="10" text-anchor="start" fill="#000" >1.0</text>
<text x="31.40" y="350.70" font-size="10.2" text-anchor="middle" fill="#000" >700</text>
<text x="64.95" y="350.70" font-size="10.2" text-anchor="middle" fill="#000" >800</text>
<text x="98.50" y="350.70" font-size="10.2" text-anchor="middle" fill="#000" >900</text>
<text x="132.05" y="350.70" font-size="10.2" text-anchor="middle" fill="#000" >1000</text>
<text x="165.60" y="350.70" font-size="10.2" text-anchor="middle" fill="#000" >1100</text>
<text x="106.20" y="361.80" font-size="10.3" text-anchor="middle" fill="#000" >Working wavelength (nm)</text>
<text x="51.40" y="233.50" font-size="13.4" text-anchor="start" fill="#000" >(c)</text>
<polyline points="48.0,242.2 65.1,265.4 81.7,283.1 98.1,296.0 131.4,313.7 165.1,323.3" fill="none" stroke="#000" stroke-width="1.5"/>
<polyline points="48.0,320.5 65.1,308.6 81.7,296.7 98.1,282.4 131.4,255.9 165.1,226.2" fill="none" stroke="#000" stroke-width="1.5" stroke-dasharray="7.5 3.8"/>
<rect x="46.20" y="240.40" width="3.6" height="3.6" fill="#000"/>
<rect x="63.30" y="263.60" width="3.6" height="3.6" fill="#000"/>
<rect x="79.90" y="281.30" width="3.6" height="3.6" fill="#000"/>
<rect x="96.30" y="294.20" width="3.6" height="3.6" fill="#000"/>
<rect x="129.60" y="311.90" width="3.6" height="3.6" fill="#000"/>
<rect x="163.30" y="321.50" width="3.6" height="3.6" fill="#000"/>
<rect x="46.20" y="318.70" width="3.6" height="3.6" fill="#000"/>
<rect x="63.30" y="306.80" width="3.6" height="3.6" fill="#000"/>
<rect x="79.90" y="294.90" width="3.6" height="3.6" fill="#000"/>
<rect x="96.30" y="280.60" width="3.6" height="3.6" fill="#000"/>
<rect x="129.60" y="254.10" width="3.6" height="3.6" fill="#000"/>
<rect x="163.30" y="224.40" width="3.6" height="3.6" fill="#000"/>
<line x1="76.0" y1="283.0" x2="49.3" y2="283.0" stroke="#000" stroke-width="1.3"/>
<path d="M 51.3 280.6 L 46.3 283.0 L 51.3 285.4 L 50.05 283.0 Z" fill="#000"/>
<line x1="136.2" y1="255.9" x2="164.4" y2="255.9" stroke="#000" stroke-width="1.3"/>
<path d="M 162.4 253.5 L 167.4 255.9 L 162.4 258.3 L 163.65 255.9 Z" fill="#000"/>
<text transform="translate(9.3 282.3) rotate(-90)" font-size="10.2" text-anchor="middle">E<tspan font-size="7" dy="2">int</tspan><tspan dy="-2">/|P</tspan><tspan font-size="7" dy="2">D1</tspan><tspan dy="-2">| with fixed |P</tspan><tspan font-size="7" dy="2">R</tspan><tspan dy="-2">| (a.u.)</tspan></text>
<text transform="translate(206.6 280.8) rotate(-90)" font-size="10.2" text-anchor="middle" fill="#000">Dipole moment of the ring (a.u.)</text>
<rect x="252.4" y="217.7" width="149.80" height="121.70" fill="none" stroke="#8c8c8c" stroke-width="1"/>
<line x1="402.2" y1="217.7" x2="402.2" y2="339.4" stroke="#d80c1a" stroke-width="1.1"/>
<line x1="252.40" y1="339.40" x2="252.40" y2="336.40" stroke="#8c8c8c" stroke-width="1" />
<line x1="252.40" y1="217.70" x2="252.40" y2="220.70" stroke="#8c8c8c" stroke-width="1" />
<line x1="269.05" y1="339.40" x2="269.05" y2="337.60" stroke="#8c8c8c" stroke-width="1" />
<line x1="269.05" y1="217.70" x2="269.05" y2="219.50" stroke="#8c8c8c" stroke-width="1" />
<line x1="285.70" y1="339.40" x2="285.70" y2="336.40" stroke="#8c8c8c" stroke-width="1" />
<line x1="285.70" y1="217.70" x2="285.70" y2="220.70" stroke="#8c8c8c" stroke-width="1" />
<line x1="302.35" y1="339.40" x2="302.35" y2="337.60" stroke="#8c8c8c" stroke-width="1" />
<line x1="302.35" y1="217.70" x2="302.35" y2="219.50" stroke="#8c8c8c" stroke-width="1" />
<line x1="319.00" y1="339.40" x2="319.00" y2="336.40" stroke="#8c8c8c" stroke-width="1" />
<line x1="319.00" y1="217.70" x2="319.00" y2="220.70" stroke="#8c8c8c" stroke-width="1" />
<line x1="335.65" y1="339.40" x2="335.65" y2="337.60" stroke="#8c8c8c" stroke-width="1" />
<line x1="335.65" y1="217.70" x2="335.65" y2="219.50" stroke="#8c8c8c" stroke-width="1" />
<line x1="352.30" y1="339.40" x2="352.30" y2="336.40" stroke="#8c8c8c" stroke-width="1" />
<line x1="352.30" y1="217.70" x2="352.30" y2="220.70" stroke="#8c8c8c" stroke-width="1" />
<line x1="368.95" y1="339.40" x2="368.95" y2="337.60" stroke="#8c8c8c" stroke-width="1" />
<line x1="368.95" y1="217.70" x2="368.95" y2="219.50" stroke="#8c8c8c" stroke-width="1" />
<line x1="385.60" y1="339.40" x2="385.60" y2="336.40" stroke="#8c8c8c" stroke-width="1" />
<line x1="385.60" y1="217.70" x2="385.60" y2="220.70" stroke="#8c8c8c" stroke-width="1" />
<line x1="402.25" y1="339.40" x2="402.25" y2="337.60" stroke="#8c8c8c" stroke-width="1" />
<line x1="402.25" y1="217.70" x2="402.25" y2="219.50" stroke="#8c8c8c" stroke-width="1" />
<line x1="252.40" y1="339.55" x2="254.20" y2="339.55" stroke="#8c8c8c" stroke-width="1" />
<line x1="252.40" y1="328.40" x2="255.40" y2="328.40" stroke="#8c8c8c" stroke-width="1" />
<line x1="252.40" y1="317.25" x2="254.20" y2="317.25" stroke="#8c8c8c" stroke-width="1" />
<line x1="252.40" y1="306.10" x2="255.40" y2="306.10" stroke="#8c8c8c" stroke-width="1" />
<line x1="252.40" y1="294.95" x2="254.20" y2="294.95" stroke="#8c8c8c" stroke-width="1" />
<line x1="252.40" y1="283.80" x2="255.40" y2="283.80" stroke="#8c8c8c" stroke-width="1" />
<line x1="252.40" y1="272.65" x2="254.20" y2="272.65" stroke="#8c8c8c" stroke-width="1" />
<line x1="252.40" y1="261.50" x2="255.40" y2="261.50" stroke="#8c8c8c" stroke-width="1" />
<line x1="252.40" y1="250.35" x2="254.20" y2="250.35" stroke="#8c8c8c" stroke-width="1" />
<line x1="252.40" y1="239.20" x2="255.40" y2="239.20" stroke="#8c8c8c" stroke-width="1" />
<line x1="252.40" y1="228.05" x2="254.20" y2="228.05" stroke="#8c8c8c" stroke-width="1" />
<line x1="252.40" y1="216.90" x2="255.40" y2="216.90" stroke="#8c8c8c" stroke-width="1" />
<line x1="402.20" y1="338.20" x2="399.20" y2="338.20" stroke="#d80c1a" stroke-width="1" />
<line x1="402.20" y1="326.15" x2="400.40" y2="326.15" stroke="#d80c1a" stroke-width="1" />
<line x1="402.20" y1="314.10" x2="399.20" y2="314.10" stroke="#d80c1a" stroke-width="1" />
<line x1="402.20" y1="302.05" x2="400.40" y2="302.05" stroke="#d80c1a" stroke-width="1" />
<line x1="402.20" y1="290.00" x2="399.20" y2="290.00" stroke="#d80c1a" stroke-width="1" />
<line x1="402.20" y1="277.95" x2="400.40" y2="277.95" stroke="#d80c1a" stroke-width="1" />
<line x1="402.20" y1="265.90" x2="399.20" y2="265.90" stroke="#d80c1a" stroke-width="1" />
<line x1="402.20" y1="253.85" x2="400.40" y2="253.85" stroke="#d80c1a" stroke-width="1" />
<line x1="402.20" y1="241.80" x2="399.20" y2="241.80" stroke="#d80c1a" stroke-width="1" />
<line x1="402.20" y1="229.75" x2="400.40" y2="229.75" stroke="#d80c1a" stroke-width="1" />
<line x1="402.20" y1="217.70" x2="399.20" y2="217.70" stroke="#d80c1a" stroke-width="1" />
<text x="250.00" y="332.00" font-size="10" text-anchor="end" fill="#000" >0.3</text>
<text x="250.00" y="309.70" font-size="10" text-anchor="end" fill="#000" >0.4</text>
<text x="250.00" y="287.40" font-size="10" text-anchor="end" fill="#000" >0.5</text>
<text x="250.00" y="265.10" font-size="10" text-anchor="end" fill="#000" >0.6</text>
<text x="250.00" y="242.80" font-size="10" text-anchor="end" fill="#000" >0.7</text>
<text x="250.00" y="220.50" font-size="10" text-anchor="end" fill="#000" >0.8</text>
<text x="404.80" y="341.80" font-size="10" text-anchor="start" fill="#d80c1a" >2</text>
<text x="404.80" y="317.70" font-size="10" text-anchor="start" fill="#d80c1a" >3</text>
<text x="404.80" y="293.60" font-size="10" text-anchor="start" fill="#d80c1a" >4</text>
<text x="404.80" y="269.50" font-size="10" text-anchor="start" fill="#d80c1a" >5</text>
<text x="404.80" y="245.40" font-size="10" text-anchor="start" fill="#d80c1a" >6</text>
<text x="404.80" y="221.30" font-size="10" text-anchor="start" fill="#d80c1a" >7</text>
<text x="252.40" y="350.40" font-size="10.2" text-anchor="middle" fill="#000" >700</text>
<text x="285.70" y="350.40" font-size="10.2" text-anchor="middle" fill="#000" >800</text>
<text x="319.00" y="350.40" font-size="10.2" text-anchor="middle" fill="#000" >900</text>
<text x="352.30" y="350.40" font-size="10.2" text-anchor="middle" fill="#000" >1000</text>
<text x="385.60" y="350.40" font-size="10.2" text-anchor="middle" fill="#000" >1100</text>
<text x="327.30" y="362.30" font-size="10.3" text-anchor="middle" fill="#000" >Working wavelength (nm)</text>
<text x="277.30" y="215.30" font-size="10" text-anchor="middle" fill="#d80c1a" >3.0</text>
<text x="304.60" y="215.30" font-size="10" text-anchor="middle" fill="#d80c1a" >3.4</text>
<text x="328.90" y="215.30" font-size="10" text-anchor="middle" fill="#d80c1a" >3.8</text>
<text x="355.20" y="215.30" font-size="10" text-anchor="middle" fill="#d80c1a" >4.2</text>
<text x="378.50" y="215.30" font-size="10" text-anchor="middle" fill="#d80c1a" >4.6</text>
<text x="326.70" y="206.30" font-size="10.2" text-anchor="middle" fill="#d80c1a" >Index of the disk</text>
<text x="275.20" y="234.00" font-size="13.4" text-anchor="start" fill="#000" >(d)</text>
<text x="298.80" y="237.90" font-size="13.4" text-anchor="start" fill="#000" >Varying the index</text>
<text transform="translate(230.4 282.8) rotate(-90)" font-size="10.2" text-anchor="middle" fill="#000">Normalized interaction energy (a.u.)</text>
<text transform="translate(424.0 279.0) rotate(-90)" font-size="10.2" text-anchor="middle" fill="#d80c1a">Relative field enhancement</text>
<rect x="274.40" y="243.20" width="3.6" height="3.6" fill="#d80c1a"/>
<rect x="287.30" y="247.90" width="3.6" height="3.6" fill="#d80c1a"/>
<rect x="298.60" y="256.80" width="3.6" height="3.6" fill="#d80c1a"/>
<rect x="310.80" y="266.60" width="3.6" height="3.6" fill="#d80c1a"/>
<rect x="324.80" y="273.80" width="3.6" height="3.6" fill="#d80c1a"/>
<rect x="336.00" y="283.70" width="3.6" height="3.6" fill="#d80c1a"/>
<rect x="348.60" y="294.90" width="3.6" height="3.6" fill="#d80c1a"/>
<rect x="373.80" y="315.70" width="3.6" height="3.6" fill="#d80c1a"/>
<rect x="386.80" y="326.20" width="3.6" height="3.6" fill="#d80c1a"/>
<polyline points="268.7,234.4 285.7,248.0 302.1,261.6 319.1,275.6 352.5,303.5 386.2,324.6" fill="none" stroke="#000" stroke-width="1.4"/>
<circle cx="268.7" cy="234.4" r="2.2" fill="#000"/>
<circle cx="285.7" cy="248.0" r="2.2" fill="#000"/>
<circle cx="302.1" cy="261.6" r="2.2" fill="#000"/>
<circle cx="319.1" cy="275.6" r="2.2" fill="#000"/>
<circle cx="352.5" cy="303.5" r="2.2" fill="#000"/>
<circle cx="386.2" cy="324.6" r="2.2" fill="#000"/>
<line x1="301.0" y1="263.3" x2="271.7" y2="263.3" stroke="#000" stroke-width="1.3"/>
<path d="M 273.7 260.90000000000003 L 268.7 263.3 L 273.7 265.7 L 272.45 263.3 Z" fill="#000"/>
<line x1="355.1" y1="297.3" x2="382.4" y2="297.3" stroke="#d80c1a" stroke-width="1.3"/>
<path d="M 380.4 294.90000000000003 L 385.4 297.3 L 380.4 299.7 L 381.65 297.3 Z" fill="#d80c1a"/>
<path d="M 357.5 241 L 362.8 245.2" stroke="#000" stroke-width="1"/>
<path d="M 361.0 245.6 L 364.2 246.4 L 362.8 243.4 Z" fill="#000"/>
<rect x="465.0" y="219.6" width="148.90" height="120.70" fill="none" stroke="#8c8c8c" stroke-width="1"/>
<line x1="465.00" y1="340.30" x2="465.00" y2="337.30" stroke="#8c8c8c" stroke-width="1" />
<line x1="479.89" y1="340.30" x2="479.89" y2="338.50" stroke="#8c8c8c" stroke-width="1" />
<line x1="494.78" y1="340.30" x2="494.78" y2="337.30" stroke="#8c8c8c" stroke-width="1" />
<line x1="509.67" y1="340.30" x2="509.67" y2="338.50" stroke="#8c8c8c" stroke-width="1" />
<line x1="524.56" y1="340.30" x2="524.56" y2="337.30" stroke="#8c8c8c" stroke-width="1" />
<line x1="539.45" y1="340.30" x2="539.45" y2="338.50" stroke="#8c8c8c" stroke-width="1" />
<line x1="554.34" y1="340.30" x2="554.34" y2="337.30" stroke="#8c8c8c" stroke-width="1" />
<line x1="569.23" y1="340.30" x2="569.23" y2="338.50" stroke="#8c8c8c" stroke-width="1" />
<line x1="584.12" y1="340.30" x2="584.12" y2="337.30" stroke="#8c8c8c" stroke-width="1" />
<line x1="599.01" y1="340.30" x2="599.01" y2="338.50" stroke="#8c8c8c" stroke-width="1" />
<line x1="613.90" y1="340.30" x2="613.90" y2="337.30" stroke="#8c8c8c" stroke-width="1" />
<line x1="465.00" y1="333.80" x2="468.00" y2="333.80" stroke="#8c8c8c" stroke-width="1" />
<line x1="613.90" y1="333.80" x2="610.90" y2="333.80" stroke="#8c8c8c" stroke-width="1" />
<line x1="465.00" y1="321.85" x2="466.80" y2="321.85" stroke="#8c8c8c" stroke-width="1" />
<line x1="613.90" y1="321.85" x2="612.10" y2="321.85" stroke="#8c8c8c" stroke-width="1" />
<line x1="465.00" y1="309.90" x2="468.00" y2="309.90" stroke="#8c8c8c" stroke-width="1" />
<line x1="613.90" y1="309.90" x2="610.90" y2="309.90" stroke="#8c8c8c" stroke-width="1" />
<line x1="465.00" y1="297.95" x2="466.80" y2="297.95" stroke="#8c8c8c" stroke-width="1" />
<line x1="613.90" y1="297.95" x2="612.10" y2="297.95" stroke="#8c8c8c" stroke-width="1" />
<line x1="465.00" y1="286.00" x2="468.00" y2="286.00" stroke="#8c8c8c" stroke-width="1" />
<line x1="613.90" y1="286.00" x2="610.90" y2="286.00" stroke="#8c8c8c" stroke-width="1" />
<line x1="465.00" y1="274.05" x2="466.80" y2="274.05" stroke="#8c8c8c" stroke-width="1" />
<line x1="613.90" y1="274.05" x2="612.10" y2="274.05" stroke="#8c8c8c" stroke-width="1" />
<line x1="465.00" y1="262.10" x2="468.00" y2="262.10" stroke="#8c8c8c" stroke-width="1" />
<line x1="613.90" y1="262.10" x2="610.90" y2="262.10" stroke="#8c8c8c" stroke-width="1" />
<line x1="465.00" y1="250.15" x2="466.80" y2="250.15" stroke="#8c8c8c" stroke-width="1" />
<line x1="613.90" y1="250.15" x2="612.10" y2="250.15" stroke="#8c8c8c" stroke-width="1" />
<line x1="465.00" y1="238.20" x2="468.00" y2="238.20" stroke="#8c8c8c" stroke-width="1" />
<line x1="613.90" y1="238.20" x2="610.90" y2="238.20" stroke="#8c8c8c" stroke-width="1" />
<line x1="465.00" y1="226.25" x2="466.80" y2="226.25" stroke="#8c8c8c" stroke-width="1" />
<line x1="613.90" y1="226.25" x2="612.10" y2="226.25" stroke="#8c8c8c" stroke-width="1" />
<text x="462.40" y="337.40" font-size="10" text-anchor="end" fill="#000" >1.6</text>
<text x="462.40" y="313.50" font-size="10" text-anchor="end" fill="#000" >2.0</text>
<text x="462.40" y="289.60" font-size="10" text-anchor="end" fill="#000" >2.4</text>
<text x="462.40" y="265.70" font-size="10" text-anchor="end" fill="#000" >2.8</text>
<text x="462.40" y="241.80" font-size="10" text-anchor="end" fill="#000" >3.2</text>
<text x="465.00" y="351.40" font-size="10" text-anchor="middle" fill="#000" >750</text>
<text x="494.78" y="351.40" font-size="10" text-anchor="middle" fill="#000" >800</text>
<text x="524.56" y="351.40" font-size="10" text-anchor="middle" fill="#000" >850</text>
<text x="554.34" y="351.40" font-size="10" text-anchor="middle" fill="#000" >900</text>
<text x="584.12" y="351.40" font-size="10" text-anchor="middle" fill="#000" >950</text>
<text x="613.90" y="351.40" font-size="10" text-anchor="middle" fill="#000" >1000</text>
<text x="539.50" y="362.80" font-size="10.3" text-anchor="middle" fill="#000" >Working wavelength (nm)</text>
<text x="488.20" y="217.70" font-size="10.2" text-anchor="middle" fill="#000" >160</text>
<text x="520.80" y="217.70" font-size="10.2" text-anchor="middle" fill="#000" >180</text>
<text x="546.80" y="217.70" font-size="10.2" text-anchor="middle" fill="#000" >200</text>
<text x="575.50" y="217.70" font-size="10.2" text-anchor="middle" fill="#000" >220</text>
<text x="597.60" y="217.70" font-size="10.2" text-anchor="middle" fill="#000" >240</text>
<line x1="465.00" y1="219.60" x2="465.00" y2="222.60" stroke="#8c8c8c" stroke-width="1" />
<line x1="479.89" y1="219.60" x2="479.89" y2="221.40" stroke="#8c8c8c" stroke-width="1" />
<line x1="494.78" y1="219.60" x2="494.78" y2="222.60" stroke="#8c8c8c" stroke-width="1" />
<line x1="509.67" y1="219.60" x2="509.67" y2="221.40" stroke="#8c8c8c" stroke-width="1" />
<line x1="524.56" y1="219.60" x2="524.56" y2="222.60" stroke="#8c8c8c" stroke-width="1" />
<line x1="539.45" y1="219.60" x2="539.45" y2="221.40" stroke="#8c8c8c" stroke-width="1" />
<line x1="554.34" y1="219.60" x2="554.34" y2="222.60" stroke="#8c8c8c" stroke-width="1" />
<line x1="569.23" y1="219.60" x2="569.23" y2="221.40" stroke="#8c8c8c" stroke-width="1" />
<line x1="584.12" y1="219.60" x2="584.12" y2="222.60" stroke="#8c8c8c" stroke-width="1" />
<line x1="599.01" y1="219.60" x2="599.01" y2="221.40" stroke="#8c8c8c" stroke-width="1" />
<line x1="613.90" y1="219.60" x2="613.90" y2="222.60" stroke="#8c8c8c" stroke-width="1" />
<text x="540.00" y="206.90" font-size="10.2" text-anchor="middle" fill="#000" >Radius of the disk (nm)</text>
<text x="486.60" y="233.40" font-size="13.4" text-anchor="start" fill="#000" >(e)</text>
<text transform="translate(443.0 287.6) rotate(-90)" font-size="10.2" text-anchor="middle" fill="#000">Relative elctric field enhancement</text>
<polyline points="487.3,262.2 507.7,252.1 520.5,243.7 534.1,236.6 547.8,231.2 560.8,229.8 573.9,231.4 582.1,233.3 594.1,239.9 600.9,248.6" fill="none" stroke="#000" stroke-width="1.5"/>
<rect x="485.60" y="260.50" width="3.4" height="3.4" fill="#000"/>
<rect x="506.00" y="250.40" width="3.4" height="3.4" fill="#000"/>
<rect x="518.80" y="242.00" width="3.4" height="3.4" fill="#000"/>
<rect x="532.40" y="234.90" width="3.4" height="3.4" fill="#000"/>
<rect x="546.10" y="229.50" width="3.4" height="3.4" fill="#000"/>
<rect x="559.10" y="228.10" width="3.4" height="3.4" fill="#000"/>
<rect x="572.20" y="229.70" width="3.4" height="3.4" fill="#000"/>
<rect x="580.40" y="231.60" width="3.4" height="3.4" fill="#000"/>
<rect x="592.40" y="238.20" width="3.4" height="3.4" fill="#000"/>
<rect x="599.20" y="246.90" width="3.4" height="3.4" fill="#000"/>
<text x="511.6" y="269" font-size="13.4">Varying the <tspan font-style="italic">R</tspan><tspan font-size="8" dy="3.6" dx="0.6">D</tspan></text>
<text x="552.4" y="284.3" font-size="13.2"><tspan font-style="italic">R</tspan><tspan font-size="8" dy="4.4" dx="0.8">D</tspan></text>
<path d="M 509.5 314.8 L 509.5 319.40000000000003 A 39.75 10.2 0 0 0 589.0 319.40000000000003 L 589.0 314.8 Z" fill="url(#rside)"/>
<ellipse cx="549.25" cy="314.8" rx="39.75" ry="10.2" fill="#bf4852"/>
<ellipse cx="549.25" cy="314.8" rx="29.3" ry="7.3" fill="url(#rinner)"/>
<ellipse cx="549.25" cy="319.40000000000003" rx="29.3" ry="7.3" fill="#fff" clip-path="url(#hce)"/>
<path d="M 527.0 300.7 L 527.0 306.5 A 22.0 5.3 0 0 0 571.0 306.5 L 571.0 300.7 Z" fill="url(#rside)"/>
<ellipse cx="549.0" cy="300.7" rx="22.0" ry="5.3" fill="#c24a54"/>
<path d="M 331.5 263.2 L 331.5 269.0 A 32.7 7.0 0 0 0 396.9 269.0 L 396.9 263.2 Z" fill="url(#rside2)"/>
<ellipse cx="364.2" cy="263.2" rx="32.7" ry="7.0" fill="#b03840"/>
<ellipse cx="364.2" cy="263.2" rx="23.6" ry="4.8" fill="url(#rinner)"/>
<ellipse cx="364.2" cy="266.2" rx="23.6" ry="4.8" fill="#fff" clip-path="url(#hcd)"/>
<path d="M 347.0 253.2 L 347.0 259.4 A 17.0 3.4 0 0 0 381.0 259.4 L 381.0 253.2 Z" fill="url(#bside)"/>
<ellipse cx="364.0" cy="253.2" rx="17.0" ry="3.4" fill="#3a62d2"/>
<line x1="548.8" y1="280.6" x2="548.8" y2="301" stroke="#000" stroke-width="1" stroke-dasharray="1.5 1.1"/>
<line x1="570.8" y1="280.6" x2="570.8" y2="301" stroke="#000" stroke-width="1" stroke-dasharray="1.5 1.1"/>
<line x1="549.6" y1="290.7" x2="570.0" y2="290.7" stroke="#000" stroke-width="1.1"/>
<path d="M 552.6 288.8 L 549.4 290.7 L 552.6 292.6 M 567.0 288.8 L 570.2 290.7 L 567.0 292.6" fill="none" stroke="#000" stroke-width="1"/>
</svg>
</body></html>
